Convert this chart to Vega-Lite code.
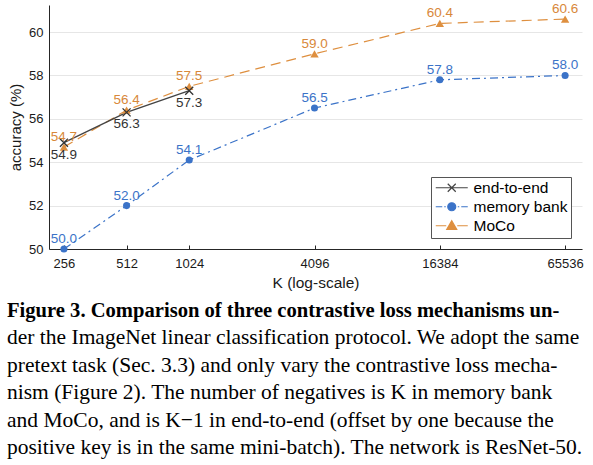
{
  "$schema": "https://vega.github.io/schema/vega-lite/v6.json",
  "autosize": "none",
  "width": 533,
  "height": 244,
  "padding": {"left": 49, "top": 5, "right": 11, "bottom": 216},
  "background": "white",
  "data": {
    "values": [
      {"method": "end-to-end", "K": 256, "acc": 54.9},
      {"method": "end-to-end", "K": 512, "acc": 56.3},
      {"method": "end-to-end", "K": 1024, "acc": 57.3},
      {"method": "memory bank", "K": 256, "acc": 50.0},
      {"method": "memory bank", "K": 512, "acc": 52.0},
      {"method": "memory bank", "K": 1024, "acc": 54.1},
      {"method": "memory bank", "K": 4096, "acc": 56.5},
      {"method": "memory bank", "K": 16384, "acc": 57.8},
      {"method": "memory bank", "K": 65536, "acc": 58.0},
      {"method": "MoCo", "K": 256, "acc": 54.7},
      {"method": "MoCo", "K": 512, "acc": 56.4},
      {"method": "MoCo", "K": 1024, "acc": 57.5},
      {"method": "MoCo", "K": 4096, "acc": 59.0},
      {"method": "MoCo", "K": 16384, "acc": 60.4},
      {"method": "MoCo", "K": 65536, "acc": 60.6}
    ]
  },
  "title": {
    "text": "Figure 3. Comparison of three contrastive loss mechanisms un-",
    "subtitle": [
      "der the ImageNet linear classification protocol. We adopt the same",
      "pretext task (Sec. 3.3) and only vary the contrastive loss mecha-",
      "nism (Figure 2). The number of negatives is K in memory bank",
      "and MoCo, and is K\u22121 in end-to-end (offset by one because the",
      "positive key is in the same mini-batch). The network is ResNet-50."
    ],
    "orient": "bottom",
    "anchor": "start",
    "frame": "group",
    "dx": -42,
    "offset": 10,
    "font": "Liberation Serif",
    "fontSize": 20.6,
    "fontWeight": "bold",
    "color": "#000000",
    "subtitleFont": "Liberation Serif",
    "subtitleFontSize": 21.5,
    "subtitleFontWeight": "normal",
    "subtitleColor": "#000000",
    "subtitleLineHeight": 27.5,
    "subtitlePadding": 6
  },
  "encoding": {
    "x": {
      "field": "K",
      "type": "quantitative",
      "scale": {"type": "log", "base": 2, "domain": [217, 79000], "nice": false, "zero": false},
      "axis": {
        "title": "K (log-scale)",
        "values": [256, 512, 1024, 4096, 16384, 65536],
        "format": "d",
        "grid": false,
        "tickSize": -4,
        "labelPadding": 12,
        "titlePadding": 5
      }
    },
    "y": {
      "field": "acc",
      "type": "quantitative",
      "scale": {"domain": [50, 61.25], "nice": false, "zero": false},
      "axis": {
        "title": "accuracy (%)",
        "titleFontSize": 15,
        "values": [50, 52, 54, 56, 58, 60],
        "grid": true,
        "ticks": false,
        "labelPadding": 6,
        "titlePadding": 5
      }
    }
  },
  "layer": [
    {
      "transform": [{"filter": "datum.method === 'memory bank'"}],
      "mark": {"type": "line", "color": "#3B73C8", "strokeWidth": 1.2, "strokeDash": [8, 4, 2, 4]}
    },
    {
      "transform": [{"filter": "datum.method === 'MoCo'"}],
      "mark": {"type": "line", "color": "#DE8F3F", "strokeWidth": 1.2, "strokeDash": [10, 6]}
    },
    {
      "transform": [{"filter": "datum.method === 'end-to-end'"}],
      "mark": {"type": "line", "color": "#444444", "strokeWidth": 1.4}
    },
    {
      "transform": [{"filter": "datum.method === 'memory bank'"}],
      "mark": {"type": "point", "shape": "circle", "filled": true, "color": "#3B73C8", "size": 50, "opacity": 1}
    },
    {
      "transform": [{"filter": "datum.method === 'MoCo'"}],
      "mark": {"type": "point", "shape": "triangle-up", "filled": true, "color": "#DE8F3F", "size": 70, "opacity": 1}
    },
    {
      "transform": [{"filter": "datum.method === 'end-to-end'"}],
      "mark": {"type": "point", "shape": "M-1,-1L1,1M-1,1L1,-1", "filled": false, "color": "#333333", "size": 64, "strokeWidth": 1.3, "opacity": 1}
    },
    {
      "transform": [{"filter": "datum.method === 'MoCo'"}],
      "mark": {"type": "text", "color": "#D8883A", "font": "Liberation Sans", "fontSize": 13.5, "baseline": "middle", "dy": -10},
      "encoding": {"text": {"field": "acc", "type": "quantitative", "format": ".1f"}}
    },
    {
      "transform": [{"filter": "datum.method === 'memory bank'"}],
      "mark": {"type": "text", "color": "#3B73C8", "font": "Liberation Sans", "fontSize": 13.5, "baseline": "middle", "dy": -10},
      "encoding": {"text": {"field": "acc", "type": "quantitative", "format": ".1f"}}
    },
    {
      "transform": [{"filter": "datum.method === 'end-to-end'"}],
      "mark": {"type": "text", "color": "#333333", "font": "Liberation Sans", "fontSize": 13.5, "baseline": "middle", "dy": 12},
      "encoding": {"text": {"field": "acc", "type": "quantitative", "format": ".1f"}}
    },
    {
      "mark": {"type": "point", "filled": true, "opacity": 0, "size": 100},
      "encoding": {
        "color": {
          "field": "method",
          "type": "nominal",
          "scale": {"domain": ["end-to-end", "memory bank", "MoCo"], "range": ["#444444", "#3B73C8", "#DE8F3F"]},
          "legend": {
            "title": null,
            "orient": "bottom-right",
            "offset": 11,
            "symbolSize": 100,
            "symbolOpacity": 1,
            "symbolStrokeWidth": 1.2,
            "symbolOffset": 10,
            "labelOffset": 14,
            "labelFont": "Liberation Sans",
            "labelFontSize": 15.5,
            "labelColor": "#000000",
            "rowPadding": 2,
            "padding": 3,
            "strokeColor": "#555555",
            "fillColor": "#ffffff",
            "encode": {
              "symbols": {"update": {"fill": {"scale": "color", "field": "value"}, "fillOpacity": {"value": 1}, "opacity": {"value": 1}}}
            }
          }
        },
        "stroke": {
          "field": "method",
          "type": "nominal",
          "scale": {"domain": ["end-to-end", "memory bank", "MoCo"], "range": ["#444444", "#3B73C8", "#DE8F3F"]},
          "legend": {"title": null}
        },
        "shape": {
          "field": "method",
          "type": "nominal",
          "scale": {
            "domain": ["end-to-end", "memory bank", "MoCo"],
            "range": [
              "M-3.2,0H3.2M-0.8,-0.8L0.8,0.8M-0.8,0.8L0.8,-0.8",
              "M-3.2,0H-1.9M-1.5,0H-1.2M1.2,0H1.5M1.9,0H3.2M0.8,0A0.8,0.8,0,1,1,-0.8,0A0.8,0.8,0,1,1,0.8,0Z",
              "M-3.2,0H-1.1M1.1,0H3.2M0,-1L1,0.75L-1,0.75Z"
            ]
          },
          "legend": {"title": null}
        }
      }
    }
  ],
  "config": {
    "view": {"stroke": null},
    "font": "Liberation Sans",
    "axis": {
      "domainColor": "#262626",
      "domainWidth": 1,
      "tickColor": "#262626",
      "labelColor": "#1a1a1a",
      "labelFont": "Liberation Sans",
      "labelFontSize": 13,
      "titleFont": "Liberation Sans",
      "titleFontSize": 15.5,
      "titleFontWeight": "normal",
      "titleColor": "#1a1a1a",
      "gridColor": "#e6e6e6",
      "gridWidth": 1
    }
  }
}
